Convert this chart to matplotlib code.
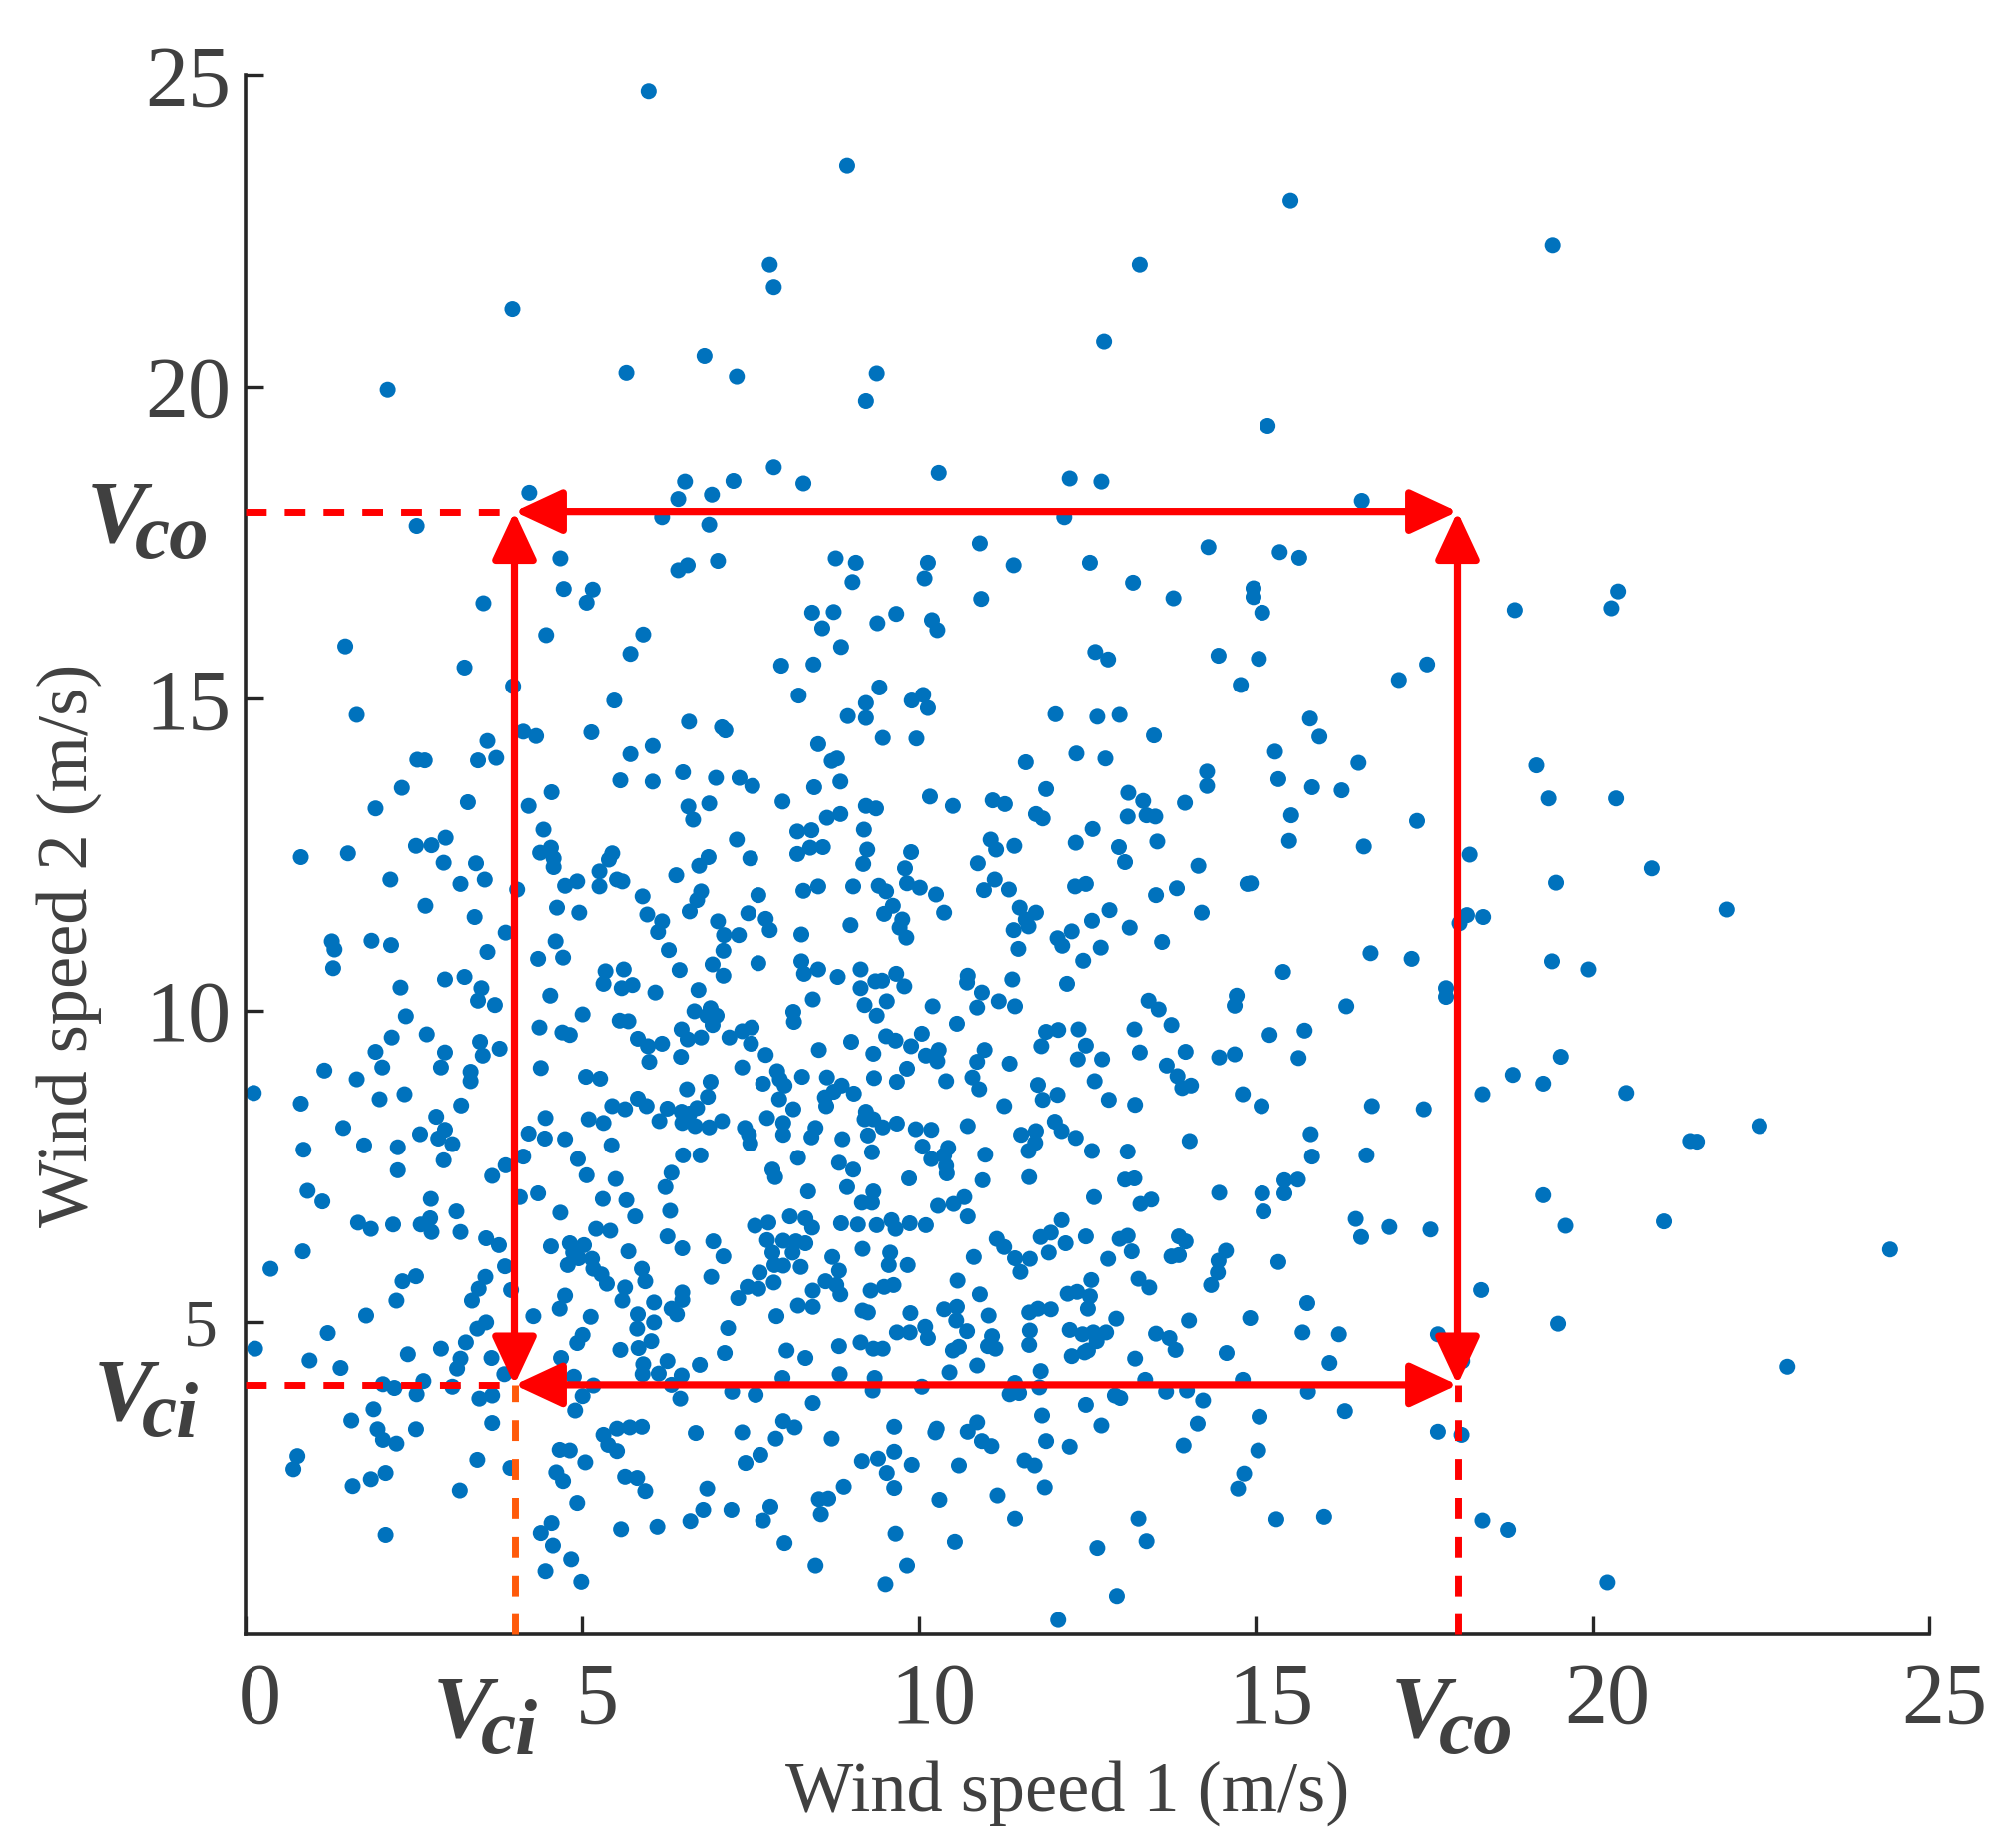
import numpy as np
import matplotlib
matplotlib.use("Agg")
import matplotlib.pyplot as plt
from matplotlib.patches import FancyArrowPatch
from matplotlib.transforms import ScaledTranslation

plt.rcParams['font.family'] = ['Liberation Serif', 'DejaVu Serif']

# wind speed pairs (speed 1, speed 2) in m/s
top = np.array([
    (5.99, 24.74), (7.79, 21.95), (7.85, 21.59), (3.97, 21.24), (6.82, 20.49), (5.66, 20.22),
    (7.30, 20.16), (2.12, 19.95), (7.85, 18.71), (8.29, 18.45), (6.53, 18.48), (7.25, 18.49),
    (4.22, 18.30), (6.43, 18.20), (6.93, 18.27), (6.19, 17.91), (6.89, 17.79), (2.55, 17.77),
    (4.68, 17.25), (6.43, 17.06), (6.57, 17.14), (7.02, 17.21), (4.73, 16.76), (5.16, 16.75),
    (5.07, 16.54), (3.54, 16.53), (4.47, 16.02), (5.91, 16.03),
    (8.94, 23.55), (15.52, 22.99), (13.28, 21.95), (12.75, 20.72), (9.38, 20.21), (9.22, 19.77),
    (15.18, 19.37), (10.30, 18.62), (12.24, 18.53), (12.71, 18.48), (16.58, 18.17), (12.16, 17.91),
    (10.91, 17.49), (14.30, 17.43), (8.77, 17.25), (9.07, 17.18), (10.14, 17.18), (11.41, 17.14),
    (12.54, 17.18), (15.36, 17.35), (15.65, 17.26), (9.02, 16.87), (10.09, 16.93), (13.18, 16.86),
    (10.93, 16.60), (13.78, 16.61), (14.97, 16.77), (14.97, 16.63), (15.10, 16.38), (8.42, 16.38),
    (8.74, 16.39), (8.57, 16.13), (9.39, 16.21), (9.67, 16.36), (10.20, 16.26), (10.28, 16.10),
    (19.41, 22.26), (18.85, 16.42), (20.38, 16.72), (20.28, 16.45),
])

mid_left = np.array([
    (1.49, 15.84), (3.26, 15.50), (5.72, 15.72), (3.98, 15.20), (7.96, 15.53), (5.48, 14.97),
    (8.22, 15.05), (1.66, 14.74), (6.59, 14.63), (7.08, 14.54), (7.13, 14.49), (5.14, 14.46),
    (4.13, 14.47), (4.32, 14.40), (3.60, 14.32), (6.05, 14.24), (5.72, 14.11), (2.56, 14.02),
    (2.67, 14.01), (3.46, 14.01), (3.73, 14.05), (6.50, 13.82), (6.99, 13.73), (7.34, 13.73),
    (7.53, 13.60), (5.57, 13.69), (6.05, 13.67), (2.33, 13.57), (4.55, 13.50), (3.31, 13.34),
    (6.89, 13.32), (7.98, 13.35), (4.21, 13.28), (1.94, 13.24), (6.58, 13.27), (6.65, 13.06),
    (4.43, 12.90), (8.20, 12.87), (7.30, 12.74), (2.98, 12.77), (2.54, 12.64), (2.77, 12.65),
    (0.83, 12.46), (1.53, 12.52), (4.38, 12.53), (4.54, 12.61), (4.58, 12.44), (4.58, 12.30),
    (5.45, 12.52), (5.40, 12.42), (6.88, 12.46), (6.74, 12.32), (7.50, 12.44), (8.20, 12.51),
    (2.95, 12.37), (3.43, 12.36), (2.16, 12.10), (3.20, 12.03), (3.56, 12.10), (4.04, 11.94),
    (4.75, 12.00), (4.93, 12.07), (5.26, 12.23), (5.26, 11.99), (5.52, 12.10), (5.60, 12.07),
    (6.40, 12.17), (5.90, 11.83), (6.77, 11.91), (6.71, 11.77), (7.62, 11.85), (8.29, 11.92),
    (2.68, 11.68), (3.41, 11.50), (4.63, 11.65), (4.96, 11.57), (5.97, 11.54), (6.19, 11.43),
    (6.13, 11.26), (6.60, 11.59), (7.47, 11.56), (7.02, 11.43), (7.73, 11.47), (7.79, 11.29),
    (7.11, 11.21), (7.33, 11.21), (8.26, 11.22), (3.87, 11.25), (1.29, 11.11), (1.33, 10.98),
    (1.88, 11.12), (2.17, 11.05), (4.61, 11.11), (3.60, 10.94), (6.29, 10.97), (7.10, 10.96),
    (4.35, 10.83), (4.72, 10.85), (6.94, 10.74), (7.62, 10.76), (8.26, 10.79), (8.30, 10.59),
    (1.31, 10.68), (5.35, 10.63), (5.32, 10.43), (5.62, 10.66), (6.45, 10.65), (7.10, 10.56),
    (2.97, 10.50), (3.26, 10.54), (3.51, 10.36), (3.46, 10.16), (2.31, 10.37), (5.59, 10.36),
    (5.75, 10.41), (6.09, 10.29), (6.73, 10.33), (4.53, 10.24), (3.71, 10.09), (2.39, 9.91),
    (5.01, 9.94), (5.56, 9.84), (5.69, 9.83), (6.67, 9.99), (6.91, 10.04), (7.00, 9.92),
    (6.94, 9.77), (6.86, 9.92), (8.14, 9.98), (8.15, 9.82), (4.37, 9.73), (2.70, 9.62),
    (2.18, 9.57), (4.71, 9.65), (4.82, 9.61), (5.83, 9.55), (5.98, 9.43), (6.19, 9.47),
    (6.00, 9.18), (6.48, 9.70), (6.57, 9.54), (6.77, 9.57), (7.19, 9.57), (7.38, 9.67),
    (7.52, 9.73), (7.51, 9.47), (3.49, 9.50), (3.53, 9.28), (3.78, 9.39), (1.94, 9.34),
    (2.97, 9.33), (2.04, 9.09), (2.91, 9.09), (6.47, 9.26), (7.73, 9.29), (1.18, 9.04),
    (3.35, 9.02), (3.35, 8.87), (4.39, 9.08), (7.38, 9.09), (7.90, 9.03), (7.94, 8.90),
    (8.01, 8.80), (8.27, 8.94), (1.66, 8.90), (5.06, 8.94), (5.27, 8.91), (7.69, 8.83),
    (0.13, 8.68), (0.83, 8.51), (2.00, 8.58), (2.37, 8.66), (6.56, 8.74), (6.91, 8.86),
    (6.87, 8.62), (7.93, 8.58), (8.14, 8.42), (3.21, 8.48), (5.45, 8.47), (5.64, 8.42),
    (5.83, 8.59), (5.96, 8.47), (6.27, 8.43), (6.15, 8.23), (6.48, 8.38), (6.60, 8.35),
    (6.71, 8.44), (6.49, 8.20), (6.68, 8.15), (6.89, 8.13), (7.08, 8.23), (2.84, 8.30),
    (4.46, 8.28), (5.10, 8.26), (5.32, 8.20), (7.75, 8.28), (7.99, 8.20), (7.99, 8.01),
    (7.42, 8.12), (7.48, 8.01), (7.50, 7.87), (1.46, 8.12), (2.97, 8.09), (2.87, 7.95),
    (2.60, 8.02), (4.21, 8.03), (4.45, 7.95), (4.75, 7.94), (1.77, 7.84), (2.27, 7.81),
    (3.08, 7.86), (5.44, 7.84), (0.87, 7.77), (4.13, 7.66), (6.50, 7.68), (6.76, 7.68),
    (4.94, 7.62), (2.95, 7.60), (8.21, 7.64), (3.87, 7.52), (2.27, 7.44), (5.07, 7.36),
    (6.33, 7.40), (7.83, 7.45), (7.87, 7.33), (5.50, 7.30), (3.67, 7.35), (6.24, 7.17),
    (0.93, 7.11), (4.35, 7.07), (4.08, 7.01), (5.31, 6.98), (5.66, 6.96), (1.15, 6.94),
    (2.76, 6.98),
])

mid_centre = np.array([
    (8.85, 15.83), (8.44, 15.55), (12.62, 15.75), (12.81, 15.63), (14.45, 15.69), (15.05, 15.64),
    (14.78, 15.22), (9.42, 15.18), (9.22, 14.93), (9.90, 14.97), (10.07, 15.06), (10.14, 14.85),
    (8.95, 14.72), (9.22, 14.69), (12.03, 14.75), (12.65, 14.71), (12.98, 14.74), (15.81, 14.68),
    (15.95, 14.39), (13.49, 14.41), (9.47, 14.37), (9.97, 14.36), (8.51, 14.27), (15.29, 14.15),
    (12.34, 14.12), (12.77, 14.04), (11.59, 13.98), (8.71, 14.00), (8.79, 14.04), (14.28, 13.83),
    (14.28, 13.60), (16.53, 13.97), (15.34, 13.71), (8.84, 13.67), (8.45, 13.58), (15.84, 13.58),
    (16.28, 13.53), (11.89, 13.55), (13.11, 13.49), (13.33, 13.36), (10.17, 13.43), (10.51, 13.28),
    (11.10, 13.37), (11.28, 13.31), (13.95, 13.33), (9.22, 13.28), (9.37, 13.24), (11.74, 13.15),
    (11.84, 13.08), (13.10, 13.11), (13.38, 13.13), (13.51, 13.11), (15.53, 13.13), (8.64, 13.09),
    (8.84, 13.15), (8.41, 12.89), (9.19, 12.90), (12.58, 12.91), (11.07, 12.74), (11.15, 12.58),
    (11.42, 12.64), (12.33, 12.69), (13.54, 12.71), (15.50, 12.72), (16.61, 12.63), (12.97, 12.62),
    (13.06, 12.38), (8.58, 12.62), (8.39, 12.61), (9.24, 12.58), (9.89, 12.54), (9.18, 12.35),
    (10.88, 12.36), (14.15, 12.32), (9.80, 12.28), (11.13, 12.10), (10.97, 11.93), (11.34, 11.94),
    (8.51, 11.99), (9.03, 11.99), (9.41, 12.00), (9.52, 11.91), (9.83, 12.04), (10.02, 11.97),
    (10.26, 11.86), (12.32, 11.99), (12.48, 12.03), (13.52, 11.85), (13.83, 11.96), (14.88, 12.03),
    (14.93, 12.04), (9.62, 11.68), (9.49, 11.55), (11.50, 11.65), (11.74, 11.57), (11.59, 11.46),
    (11.63, 11.35), (10.38, 11.57), (9.76, 11.46), (9.72, 11.33), (9.82, 11.17), (8.99, 11.37),
    (12.83, 11.61), (14.20, 11.57), (12.57, 11.44), (13.13, 11.33), (11.41, 11.29), (12.06, 11.16),
    (12.27, 11.27), (12.13, 11.04), (13.61, 11.10), (12.70, 11.01), (11.48, 10.99), (12.44, 10.80),
    (16.71, 10.92), (8.51, 10.66), (9.14, 10.66), (8.80, 10.54), (9.67, 10.59), (9.79, 10.39),
    (9.36, 10.47), (9.14, 10.36), (9.46, 10.48), (10.73, 10.56), (10.72, 10.45), (11.39, 10.50),
    (15.41, 10.62), (12.20, 10.43), (10.94, 10.29), (8.43, 10.18), (9.53, 10.15), (9.20, 10.09),
    (10.21, 10.07), (10.87, 10.05), (11.19, 10.15), (11.43, 10.07), (13.41, 10.16), (13.56, 10.02),
    (14.72, 10.24), (14.69, 10.08), (16.35, 10.07), (9.38, 9.92), (10.57, 9.79), (13.75, 9.77),
    (11.89, 9.66), (12.07, 9.69), (12.37, 9.70), (13.20, 9.70), (15.21, 9.61), (15.73, 9.68),
    (9.52, 9.59), (9.66, 9.52), (10.05, 9.63), (9.00, 9.50), (8.52, 9.37), (9.89, 9.43),
    (9.33, 9.31), (10.11, 9.28), (10.30, 9.37), (10.28, 9.19), (10.98, 9.37), (10.87, 9.18),
    (11.82, 9.43), (12.48, 9.44), (12.36, 9.22), (12.72, 9.22), (13.28, 9.33), (13.96, 9.34),
    (14.46, 9.25), (14.69, 9.30), (15.64, 9.24), (11.35, 9.15), (13.68, 9.12), (9.83, 9.07),
    (8.64, 8.93), (9.34, 8.92), (9.68, 8.86), (10.41, 8.87), (10.80, 8.93), (10.90, 8.74),
    (13.84, 8.95), (13.91, 8.76), (14.04, 8.80), (12.61, 8.87), (11.77, 8.81), (8.86, 8.80),
    (9.04, 8.67), (8.61, 8.61), (8.63, 8.47), (8.74, 8.70), (11.84, 8.57), (12.06, 8.65),
    (12.82, 8.57), (13.21, 8.49), (14.81, 8.66), (15.09, 8.47), (11.27, 8.47), (16.73, 8.47),
    (9.22, 8.38), (9.20, 8.26), (9.33, 8.26), (9.47, 8.13), (9.68, 8.19), (8.47, 8.12),
    (8.41, 7.97), (9.96, 8.10), (10.19, 8.09), (10.73, 8.15), (12.02, 8.22), (12.12, 8.07),
    (11.52, 8.01), (11.74, 8.07), (11.73, 7.88), (11.63, 7.75), (12.33, 7.96), (14.02, 7.91),
    (15.82, 8.02), (9.25, 8.00), (8.87, 7.94), (10.06, 7.82), (10.44, 7.80), (10.38, 7.68),
    (10.41, 7.51), (10.19, 7.62), (10.42, 7.39), (9.31, 7.73), (10.99, 7.69), (12.57, 7.75),
    (13.10, 7.74), (15.84, 7.66), (16.65, 7.68), (8.82, 7.56), (9.03, 7.45), (9.86, 7.31),
    (10.95, 7.28), (11.64, 7.33), (13.06, 7.29), (13.20, 7.31), (15.43, 7.28), (15.63, 7.29),
    (15.43, 7.07), (8.94, 7.17), (8.36, 7.10), (9.33, 7.10), (9.16, 6.92), (9.31, 6.92),
    (10.68, 7.01), (10.52, 6.90), (10.29, 6.87), (12.60, 7.01), (14.46, 7.08), (15.10, 7.07),
    (13.45, 6.97), (13.29, 6.90),
])

mid_right = np.array([
    (17.55, 15.55), (17.13, 15.30), (19.17, 13.93), (19.35, 13.40), (20.35, 13.40), (17.40, 13.04),
    (18.18, 12.50), (20.88, 12.28), (19.46, 12.05), (21.99, 11.62), (18.14, 11.53), (18.03, 11.40),
    (18.38, 11.50), (17.32, 10.83), (19.40, 10.79), (19.94, 10.66), (17.83, 10.36), (17.83, 10.22),
    (19.53, 9.26), (18.82, 8.97), (19.27, 8.83), (18.37, 8.66), (20.50, 8.68), (17.50, 8.42),
    (22.48, 8.15), (21.45, 7.91), (21.55, 7.90), (19.27, 7.04),
])

low_left = np.array([
    (3.14, 6.78), (4.68, 6.76), (5.79, 6.70), (6.31, 6.79), (1.68, 6.60), (1.87, 6.50),
    (2.20, 6.57), (2.61, 6.57), (2.75, 6.67), (2.77, 6.45), (3.20, 6.45), (5.21, 6.50),
    (5.42, 6.47), (7.57, 6.55), (7.77, 6.60), (8.09, 6.70), (8.32, 6.67), (3.58, 6.35),
    (3.77, 6.24), (4.54, 6.22), (4.82, 6.27), (5.03, 6.24), (4.87, 6.12), (6.27, 6.38),
    (6.49, 6.19), (6.95, 6.30), (5.69, 6.14), (7.75, 6.32), (7.99, 6.31), (8.18, 6.30),
    (7.83, 6.12), (8.13, 6.12), (8.32, 6.27), (0.86, 6.14), (4.95, 6.03), (5.15, 6.02),
    (7.10, 6.06), (0.38, 5.86), (4.79, 5.92), (3.86, 5.90), (7.86, 5.92), (7.99, 5.91),
    (8.25, 5.89), (5.17, 5.86), (5.29, 5.77), (5.89, 5.86), (5.94, 5.66), (7.64, 5.80),
    (6.92, 5.73), (2.54, 5.74), (2.34, 5.66), (3.57, 5.73), (3.47, 5.54), (5.37, 5.62),
    (7.85, 5.64), (3.95, 5.52), (6.49, 5.48), (6.49, 5.36), (5.64, 5.56), (5.60, 5.35),
    (7.46, 5.57), (7.62, 5.54), (7.32, 5.39), (4.75, 5.43), (3.37, 5.35), (2.25, 5.35),
    (6.07, 5.32), (6.33, 5.22), (6.41, 5.13), (4.67, 5.22), (8.21, 5.27), (1.80, 5.11),
    (4.28, 5.10), (5.13, 5.09), (5.83, 5.13), (5.82, 4.90), (6.07, 5.00), (7.89, 5.10),
    (3.58, 5.00), (3.45, 4.90), (7.17, 4.91), (1.23, 4.83), (5.01, 4.80), (4.93, 4.67),
    (3.28, 4.68), (6.03, 4.70), (5.57, 4.56), (5.84, 4.59), (0.15, 4.58), (2.91, 4.58),
    (7.12, 4.51), (8.04, 4.55), (8.32, 4.43), (2.42, 4.49), (0.96, 4.39), (3.66, 4.43),
    (4.69, 4.43), (3.20, 4.42), (3.15, 4.26), (1.42, 4.27), (5.91, 4.33), (5.90, 4.17),
    (6.27, 4.38), (6.14, 4.18), (6.75, 4.32), (3.85, 4.17), (4.88, 4.13), (6.48, 4.15),
    (7.98, 4.11), (2.65, 4.06), (2.05, 4.01), (2.22, 3.95), (3.08, 3.97), (5.17, 3.99),
    (6.33, 4.00), (2.55, 3.85), (5.01, 3.82), (3.48, 3.78), (3.67, 3.83), (6.46, 3.78),
    (7.23, 3.89), (7.58, 3.84), (1.91, 3.61), (4.90, 3.59), (1.58, 3.43), (1.97, 3.29),
    (2.05, 3.12), (2.54, 3.29), (3.67, 3.39), (5.52, 3.30), (5.71, 3.32), (5.89, 3.33),
    (5.32, 3.20), (5.39, 3.04), (5.52, 2.94), (6.69, 3.23), (7.38, 3.24), (7.99, 3.42),
    (8.16, 3.32), (7.88, 3.14), (2.25, 3.06), (0.78, 2.86), (0.72, 2.65), (4.67, 2.96),
    (4.82, 2.95), (3.45, 2.80), (5.05, 2.76), (7.65, 2.88), (7.43, 2.75), (3.94, 2.67),
    (2.09, 2.59), (1.87, 2.49), (1.60, 2.38), (4.62, 2.60), (4.72, 2.46), (5.64, 2.53),
    (5.82, 2.51), (5.94, 2.30), (3.19, 2.31), (6.86, 2.34), (4.93, 2.11), (6.80, 2.00),
    (7.22, 2.00), (7.80, 2.05), (7.69, 1.83), (4.55, 1.79), (4.39, 1.63), (5.58, 1.69),
    (6.12, 1.73), (6.61, 1.82), (2.09, 1.60), (4.57, 1.43), (8.01, 1.47), (4.84, 1.21),
    (4.46, 1.02), (4.99, 0.85),
])

low_centre = np.array([
    (10.73, 6.70), (15.12, 6.78), (16.49, 6.66), (16.57, 6.37), (8.42, 6.52), (8.85, 6.59),
    (9.10, 6.57), (9.38, 6.56), (9.60, 6.64), (9.66, 6.50), (9.87, 6.59), (10.11, 6.56),
    (11.16, 6.34), (11.27, 6.21), (11.81, 6.37), (11.96, 6.44), (12.12, 6.64), (12.18, 6.27),
    (11.93, 6.12), (12.48, 6.38), (12.98, 6.34), (13.10, 6.39), (13.16, 6.14), (13.86, 6.38),
    (13.96, 6.30), (13.75, 6.06), (13.86, 6.08), (14.56, 6.15), (14.45, 5.99), (14.44, 5.80),
    (14.34, 5.60), (9.17, 6.18), (9.58, 6.12), (9.56, 5.92), (8.72, 6.05), (8.82, 5.83),
    (9.84, 5.92), (10.82, 6.05), (11.43, 6.03), (11.65, 6.02), (11.51, 5.81), (12.81, 6.02),
    (15.34, 5.97), (8.62, 5.66), (8.78, 5.60), (8.84, 5.45), (8.43, 5.51), (10.58, 5.67),
    (12.56, 5.68), (13.26, 5.70), (13.42, 5.56), (9.29, 5.51), (9.49, 5.57), (9.63, 5.60),
    (10.91, 5.45), (12.21, 5.46), (12.35, 5.49), (12.54, 5.42), (12.51, 5.22), (15.77, 5.31),
    (8.43, 5.25), (9.17, 5.19), (9.25, 5.16), (9.88, 5.15), (10.38, 5.21), (10.57, 5.25),
    (10.56, 5.03), (10.72, 4.86), (11.04, 5.11), (11.64, 5.16), (11.77, 5.22), (11.96, 5.21),
    (12.93, 5.06), (14.92, 5.07), (14.01, 5.03), (10.10, 4.93), (10.14, 4.75), (9.68, 4.84),
    (9.87, 4.84), (11.65, 4.87), (12.24, 4.88), (12.43, 4.81), (12.59, 4.84), (12.78, 4.84),
    (12.64, 4.70), (13.52, 4.82), (13.72, 4.75), (13.81, 4.56), (15.70, 4.84), (16.24, 4.81),
    (11.09, 4.78), (11.03, 4.62), (11.14, 4.58), (9.14, 4.68), (9.33, 4.58), (9.47, 4.58),
    (8.82, 4.62), (10.51, 4.55), (10.60, 4.61), (11.64, 4.64), (12.27, 4.46), (12.46, 4.52),
    (12.51, 4.55), (13.21, 4.42), (14.57, 4.51), (16.10, 4.35), (10.87, 4.31), (11.81, 4.22),
    (10.46, 4.20), (8.83, 4.17), (9.35, 4.11), (9.32, 3.91), (13.36, 4.08), (14.81, 4.08),
    (10.05, 3.97), (11.43, 4.03), (11.35, 3.85), (11.49, 3.87), (11.79, 3.96), (12.91, 3.83),
    (12.99, 3.79), (13.67, 3.89), (13.98, 3.91), (15.78, 3.89), (14.22, 3.75), (8.43, 3.71),
    (12.48, 3.68), (16.33, 3.58), (11.83, 3.51), (15.06, 3.49), (9.64, 3.33), (12.71, 3.35),
    (14.14, 3.38), (10.25, 3.24), (10.27, 3.30), (10.87, 3.40), (10.73, 3.25), (8.71, 3.14),
    (10.94, 3.10), (11.08, 3.02), (11.89, 3.10), (12.24, 3.01), (13.93, 3.03), (15.04, 2.95),
    (9.64, 2.93), (9.16, 2.78), (9.40, 2.82), (9.90, 2.72), (10.60, 2.71), (11.57, 2.79),
    (11.72, 2.71), (9.53, 2.59), (14.83, 2.58), (14.74, 2.34), (8.89, 2.37), (9.64, 2.35),
    (11.87, 2.36), (11.17, 2.23), (8.52, 2.17), (8.66, 2.18), (8.55, 1.93), (10.31, 2.16),
    (11.43, 1.86), (13.26, 1.86), (15.31, 1.85), (16.02, 1.89), (9.66, 1.62), (10.54, 1.49),
    (13.38, 1.50), (12.65, 1.39), (8.47, 1.11), (9.83, 1.11), (9.51, 0.81), (12.94, 0.62),
    (12.07, 0.23),
])

low_right = np.array([
    (16.99, 6.53), (17.60, 6.49), (19.60, 6.55), (21.06, 6.62), (24.42, 6.17), (18.35, 5.52),
    (19.49, 4.98), (17.71, 4.81), (18.07, 4.38), (22.90, 4.29), (17.71, 3.25), (18.06, 3.20),
    (18.37, 1.83), (18.75, 1.68), (20.22, 0.84),
])

v_ci = 4    # cut-in speed
v_co = 18   # cut-out speed

x_ticks = [0, 5, 10, 15, 20, 25]
y_ticks = [5, 10, 15, 20, 25]

pts = np.vstack([top, mid_left, mid_centre, mid_right, low_left, low_centre, low_right])

W, H = 2020, 1846
fig = plt.figure(figsize=(W / 100, H / 100), dpi=100)
ax = fig.add_axes([245.5 / W, 1 - 1638 / H, (1933 - 245.5) / W, (1638 - 75) / H])

grey = '#404040'
dark = '#262626'

ax.scatter(pts[:, 0], pts[:, 1], s=133, c='#0072BD', edgecolors='none', zorder=2)

ax.set_xlim(0, 25)
ax.set_ylim(0, 25)
for s in ['top', 'right']:
    ax.spines[s].set_visible(False)
for s in ['left', 'bottom']:
    ax.spines[s].set_linewidth(2.6)
    ax.spines[s].set_color(dark)

ax.set_xticks(x_ticks)
ax.set_yticks(y_ticks)
ax.tick_params(direction='in', length=13, width=2.4, color=dark,
               labelsize=62, labelcolor=grey)
ax.tick_params(axis='x', pad=20)
ax.tick_params(axis='y', pad=10)

# MATLAB put the x labels a little to the right of their ticks
for lab in ax.get_xticklabels():
    lab.set_transform(lab.get_transform() + ScaledTranslation(0.15, 0, fig.dpi_scale_trans))
lab5 = ax.get_yticklabels()[0]
lab5.set_fontsize(49)
lab5.set_transform(lab5.get_transform() + ScaledTranslation(-0.14, 0, fig.dpi_scale_trans))

ax.set_xlabel('Wind speed 1 (m/s)', fontsize=52, color=grey, va='baseline')
ax.xaxis.set_label_coords((1070 - 245.5) / 1687.5, (1638 - 1815) / 1563)
ax.set_ylabel('Wind speed 2 (m/s)', fontsize=52, color=grey, va='baseline')
ax.yaxis.set_label_coords((87 - 245.5) / 1687.5, (1638 - 947) / 1563)

# dashed guides from the axes to the box
dash = (0, (3.0, 2.6))
ax.plot([0, v_ci], [v_co, v_co], color='red', lw=5, ls=dash, zorder=3, clip_on=False)
ax.plot([0, v_ci], [v_ci, v_ci], color='red', lw=5, ls=dash, zorder=3, clip_on=False)
ax.plot([v_ci, v_ci], [0, v_ci], color='#FF5A0A', lw=5, ls=dash, zorder=3, clip_on=False)
ax.plot([v_co, v_co], [0, v_ci], color='red', lw=5, ls=dash, zorder=3, clip_on=False)

# double arrows around the operating box
sides = [((v_ci, v_co), (v_co, v_co)), ((v_ci, v_ci), (v_co, v_ci)),
         ((v_ci, v_ci), (v_ci, v_co)), ((v_co, v_ci), (v_co, v_co))]
for a, b in sides:
    arr = FancyArrowPatch(a, b, arrowstyle='<|-|>,head_length=29,head_width=13.5',
                          mutation_scale=1, lw=5.2, color='red',
                          shrinkA=0, shrinkB=0, zorder=4)
    ax.add_patch(arr)

# V_ci / V_co labels
def vlabel(x, y, sub):
    fig.text(x / W, 1 - y / H, 'V', fontsize=64, fontweight='bold', fontstyle='italic',
             color=grey, ha='left', va='baseline')
    fig.text((x + 48) / W, 1 - (y + 16) / H, sub, fontsize=57, fontweight='bold',
             fontstyle='italic', color=grey, ha='left', va='baseline')

vlabel(87, 543, 'co')
vlabel(94, 1423, 'ci')
vlabel(434, 1741, 'ci')
vlabel(1394, 1741, 'co')

fig.savefig('out.png', dpi=100)
